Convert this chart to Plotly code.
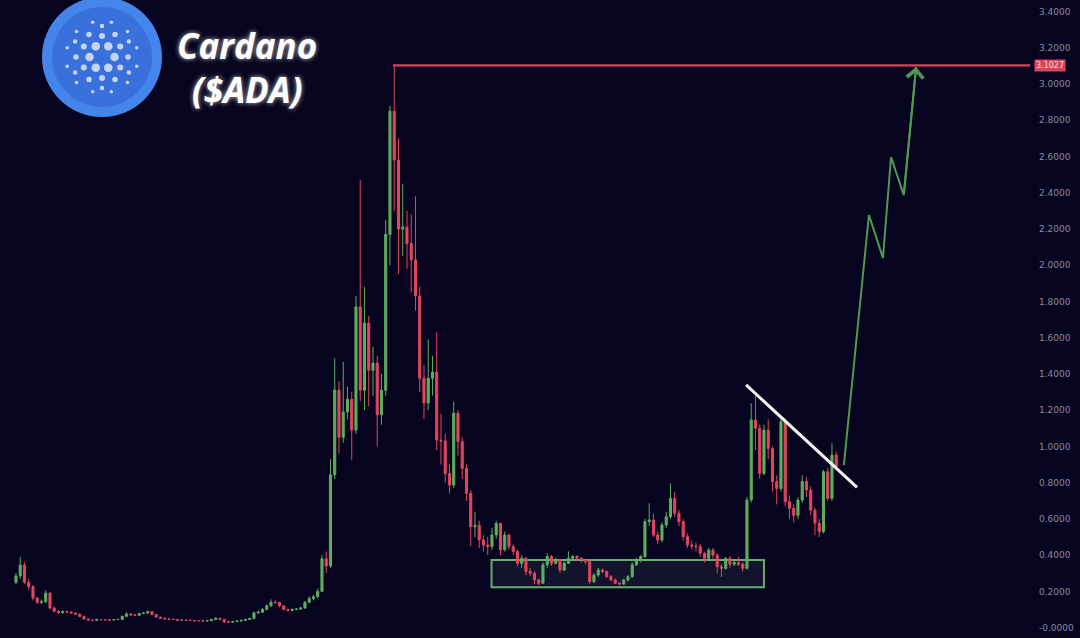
import math
import plotly.graph_objects as go

# ---------------- data (bi-weekly ADA candles) ----------------
first_open = 0.25
closes = [
    0.285, 0.345, 0.25, 0.226, 0.163, 0.14, 0.143, 0.19, 0.108, 0.09,
    0.082, 0.088, 0.086, 0.08, 0.074, 0.062, 0.048, 0.042, 0.04, 0.045,
    0.044, 0.043, 0.042, 0.044, 0.045, 0.062, 0.075, 0.07, 0.068, 0.078,
    0.08, 0.088, 0.072, 0.058, 0.052, 0.048, 0.046, 0.045, 0.04, 0.041,
    0.04, 0.04, 0.038, 0.038, 0.037, 0.038, 0.045, 0.052, 0.045, 0.032,
    0.03, 0.033, 0.036, 0.04, 0.045, 0.05, 0.082, 0.085, 0.1, 0.12,
    0.14, 0.138, 0.12, 0.1, 0.095, 0.1, 0.102, 0.108, 0.14, 0.16,
    0.17, 0.2, 0.38, 0.34, 0.843, 1.311, 1.05, 1.19, 1.26, 1.09,
    1.77, 1.31, 1.68, 1.42, 1.46, 1.175, 1.31, 2.17, 2.85, 2.58,
    2.2, 2.21, 2.12, 2.03, 1.83, 1.376, 1.24, 1.376, 1.41, 1.035,
    1.03, 0.85, 0.787, 1.183, 1.026, 0.879, 0.741, 0.557, 0.565, 0.484,
    0.456, 0.447, 0.511, 0.575, 0.429, 0.511, 0.447, 0.42, 0.355, 0.383,
    0.31, 0.30, 0.263, 0.245, 0.346, 0.392, 0.355, 0.373, 0.318, 0.355,
    0.383, 0.392, 0.383, 0.373, 0.364, 0.254, 0.29, 0.318, 0.309, 0.281,
    0.263, 0.245, 0.241, 0.263, 0.281, 0.346, 0.373, 0.392, 0.585, 0.594,
    0.511, 0.483, 0.566, 0.612, 0.713, 0.631, 0.585, 0.502, 0.456, 0.45,
    0.447, 0.41, 0.382, 0.428, 0.40, 0.336, 0.327, 0.382, 0.35, 0.358,
    0.35, 0.327, 0.704, 1.146, 1.10, 0.851, 1.09, 0.989, 0.806, 0.768,
    1.137, 0.695, 0.658, 0.62, 0.704, 0.806, 0.759, 0.648, 0.576, 0.53,
    0.86, 0.713, 0.952, 0.888,
]
highs = [
    0.30, 0.39, 0.36, 0.27, 0.235, 0.17, 0.155, 0.205, 0.195, 0.115,
    0.095, 0.095, 0.093, 0.09, 0.085, 0.078, 0.065, 0.05, 0.045, 0.048,
    0.048, 0.047, 0.046, 0.047, 0.049, 0.066, 0.085, 0.08, 0.074, 0.082,
    0.085, 0.094, 0.09, 0.075, 0.06, 0.055, 0.05, 0.049, 0.047, 0.044,
    0.043, 0.043, 0.042, 0.041, 0.04, 0.041, 0.048, 0.056, 0.054, 0.047,
    0.035, 0.036, 0.039, 0.043, 0.048, 0.054, 0.088, 0.094, 0.108, 0.128,
    0.155, 0.15, 0.142, 0.124, 0.105, 0.106, 0.108, 0.114, 0.146, 0.172,
    0.18, 0.215, 0.40, 0.42, 0.93, 1.486, 1.36, 1.467, 1.33, 1.30,
    1.83, 2.47, 1.88, 1.72, 1.55, 1.50, 1.40, 2.25, 2.88, 3.1027,
    2.70, 2.45, 2.30, 2.28, 2.38, 1.88, 1.45, 1.59, 1.50, 1.63,
    1.18, 1.07, 0.90, 1.247, 1.20, 1.05, 0.90, 0.76, 0.64, 0.59,
    0.51, 0.50, 0.55, 0.59, 0.58, 0.53, 0.52, 0.46, 0.43, 0.40,
    0.39, 0.33, 0.31, 0.27, 0.36, 0.41, 0.40, 0.385, 0.38, 0.365,
    0.42, 0.40, 0.40, 0.39, 0.38, 0.37, 0.30, 0.33, 0.325, 0.315,
    0.29, 0.27, 0.25, 0.27, 0.29, 0.36, 0.385, 0.40, 0.60, 0.686,
    0.63, 0.53, 0.58, 0.64, 0.796, 0.75, 0.65, 0.60, 0.52, 0.48,
    0.47, 0.46, 0.42, 0.44, 0.44, 0.41, 0.35, 0.39, 0.395, 0.37,
    0.39, 0.36, 0.72, 1.238, 1.284, 1.12, 1.12, 1.15, 1.0, 0.84,
    1.16, 1.155, 0.73, 0.68, 0.72, 0.84, 0.83, 0.78, 0.66, 0.60,
    0.87, 0.88, 1.017, 0.97,
]
lows = [
    0.24, 0.27, 0.24, 0.21, 0.15, 0.13, 0.13, 0.135, 0.10, 0.085,
    0.075, 0.078, 0.08, 0.075, 0.07, 0.058, 0.044, 0.038, 0.036, 0.038,
    0.041, 0.04, 0.039, 0.04, 0.042, 0.043, 0.06, 0.066, 0.063, 0.065,
    0.074, 0.077, 0.068, 0.055, 0.049, 0.045, 0.043, 0.042, 0.037, 0.038,
    0.037, 0.037, 0.035, 0.035, 0.034, 0.034, 0.036, 0.043, 0.042, 0.024,
    0.026, 0.028, 0.031, 0.034, 0.038, 0.043, 0.048, 0.076, 0.082, 0.095,
    0.115, 0.13, 0.112, 0.095, 0.09, 0.09, 0.096, 0.098, 0.105, 0.135,
    0.15, 0.165, 0.195, 0.30, 0.33, 0.82, 0.96, 1.02, 1.15, 0.925,
    1.07, 1.25, 1.20, 1.22, 1.28, 1.00, 1.12, 1.28, 2.0, 2.30,
    1.95, 2.05, 1.98, 1.85, 1.75, 1.30, 1.15, 1.20, 1.28, 0.98,
    0.90, 0.80, 0.74, 0.77, 0.95, 0.82, 0.70, 0.45, 0.50, 0.44,
    0.42, 0.40, 0.43, 0.49, 0.40, 0.42, 0.43, 0.40, 0.34, 0.33,
    0.29, 0.285, 0.24, 0.235, 0.24, 0.33, 0.34, 0.35, 0.30, 0.31,
    0.35, 0.37, 0.37, 0.36, 0.35, 0.24, 0.245, 0.28, 0.30, 0.275,
    0.255, 0.24, 0.235, 0.235, 0.255, 0.275, 0.34, 0.36, 0.385, 0.56,
    0.50, 0.46, 0.47, 0.55, 0.60, 0.61, 0.56, 0.48, 0.44, 0.43,
    0.42, 0.39, 0.36, 0.37, 0.38, 0.30, 0.28, 0.32, 0.33, 0.34,
    0.34, 0.31, 0.32, 0.69, 0.98, 0.82, 0.84, 0.93, 0.75, 0.68,
    0.75, 0.67, 0.60, 0.58, 0.60, 0.69, 0.72, 0.62, 0.51, 0.50,
    0.52, 0.70, 0.70, 0.87,
]
opens = [first_open] + closes[:-1]
candle_index = list(range(len(closes)))

ath_level = 3.1027
ath_label = "3.1027"
ath_index = 88.7

range_box_x = [111.9, 176.0]
range_box_y = [0.222, 0.373]

trend_x = [171.8, 197.9]
trend_y = [1.339, 0.774]

projection_x = [194.8, 200.7, 204.0, 205.9, 208.9, 211.8]
projection_y = [0.897, 2.277, 2.040, 2.597, 2.387, 3.094]

tick_values = [0.0, 0.2, 0.4, 0.6, 0.8, 1.0, 1.2, 1.4, 1.6, 1.8,
               2.0, 2.2, 2.4, 2.6, 2.8, 3.0, 3.2, 3.4]
tick_labels = ["-0.0000", "0.2000", "0.4000", "0.6000", "0.8000", "1.0000",
               "1.2000", "1.4000", "1.6000", "1.8000", "2.0000", "2.2000",
               "2.4000", "2.6000", "2.8000", "3.0000", "3.2000", "3.4000"]

title_line1 = "Cardano"
title_line2 = "($ADA)"

# ---------------- styles ----------------
BG = "#07041f"
GREEN = "#5cae60"
RED = "#e0475d"
X_RANGE = [-3.76, 238.6]
Y_RANGE = [-0.0574, 3.4636]
PLOT_W, PLOT_H = 1030, 638

fig = go.Figure()

fig.add_trace(go.Candlestick(
    x=candle_index, open=opens, high=highs, low=lows, close=closes,
    increasing=dict(line=dict(color=GREEN, width=1), fillcolor=GREEN),
    decreasing=dict(line=dict(color=RED, width=1), fillcolor=RED),
    whiskerwidth=0, showlegend=False, hoverinfo="skip",
))

# consolidation box
fig.add_shape(type="rect", xref="x", yref="y",
              x0=range_box_x[0], x1=range_box_x[1], y0=range_box_y[0], y1=range_box_y[1],
              line=dict(color="#64b068", width=2), fillcolor="rgba(140,160,180,0.10)",
              layer="below")

# all-time-high line
fig.add_shape(type="line", xref="x", yref="y", x0=ath_index, x1=X_RANGE[1],
              y0=ath_level, y1=ath_level, line=dict(color="#d9465b", width=2.2))

# trendline
fig.add_trace(go.Scatter(x=trend_x, y=trend_y, mode="lines",
                         line=dict(color="#f2f2f2", width=3),
                         showlegend=False, hoverinfo="skip"))

# projection path
fig.add_trace(go.Scatter(x=projection_x, y=projection_y, mode="lines",
                         line=dict(color="#4e9a50", width=2),
                         showlegend=False, hoverinfo="skip"))
fig.add_annotation(x=projection_x[-1], y=projection_y[-1], ax=projection_x[-2], ay=projection_y[-2],
                   xref="x", yref="y", axref="x", ayref="y", text="", showarrow=True,
                   arrowhead=4, arrowsize=1.6, arrowwidth=2, arrowcolor="#4e9a50")

# ATH price label on axis
fig.add_annotation(xref="paper", yref="y", x=1, y=ath_level, xanchor="left", yanchor="middle",
                   xshift=4, text=ath_label, showarrow=False,
                   font=dict(family="DejaVu Sans", size=8, color="#ffd6dc"),
                   bgcolor="#d9465b", borderpad=1)

# ---------------- logo (pixel overlay axes) ----------------
cx, cy = 102, 57
fig.add_shape(type="circle", xref="x2", yref="y2", x0=cx - 60, x1=cx + 60, y0=cy - 60, y1=cy + 60,
              fillcolor="#4385ea", line=dict(width=0), layer="below")
fig.add_shape(type="circle", xref="x2", yref="y2", x0=cx - 50, x1=cx + 50, y0=cy - 50, y1=cy + 50,
              fillcolor="#3a70dc", line=dict(width=0), layer="below")

dot_x, dot_y, dot_s = [], [], []
rings = [(12.5, 0, 6, 8.5), (21, 30, 6, 6), (26, 0, 6, 5.5), (31, 30, 6, 4.5),
         (36, 15, 12, 3.5)]
for r, off, n, s in rings:
    for k in range(n):
        a = math.radians(off + k * 360 / n)
        dot_x.append(cx + r * math.cos(a))
        dot_y.append(cy + r * math.sin(a))
        dot_s.append(s)
fig.add_trace(go.Scatter(x=dot_x, y=dot_y, xaxis="x2", yaxis="y2", mode="markers",
                         marker=dict(color="white", size=dot_s, line=dict(width=0)),
                         showlegend=False, hoverinfo="skip"))

title_font = dict(family="Open Sans", size=35, color="white", weight="bold", style="italic",
                  shadow="0px 0px 5px rgba(255,255,255,0.75)")
fig.add_annotation(xref="x2", yref="y2", x=247, y=45, text=title_line1, showarrow=False,
                   font=title_font, xanchor="center", yanchor="middle")
fig.add_annotation(xref="x2", yref="y2", x=247, y=89, text=title_line2, showarrow=False,
                   font=title_font, xanchor="center", yanchor="middle")

fig.update_layout(
    width=1080, height=638,
    margin=dict(l=0, r=50, t=0, b=0),
    paper_bgcolor=BG, plot_bgcolor=BG,
    showlegend=False,
    xaxis=dict(range=X_RANGE, visible=False, showgrid=False, zeroline=False,
               rangeslider=dict(visible=False)),
    yaxis=dict(range=Y_RANGE, side="right", showgrid=False, zeroline=False, showline=False,
               tickvals=tick_values, ticktext=tick_labels, ticks="",
               ticklabelstandoff=8,
               tickfont=dict(family="DejaVu Sans", size=9, color="#8a8aa2")),
    xaxis2=dict(range=[0, PLOT_W], overlaying="x", visible=False, showgrid=False, zeroline=False),
    yaxis2=dict(range=[PLOT_H, 0], overlaying="y", visible=False, showgrid=False, zeroline=False),
)

fig.write_html("out.html", config={"displayModeBar": False},
               post_script="document.body.style.margin='0';document.body.style.background='%s';" % BG)
